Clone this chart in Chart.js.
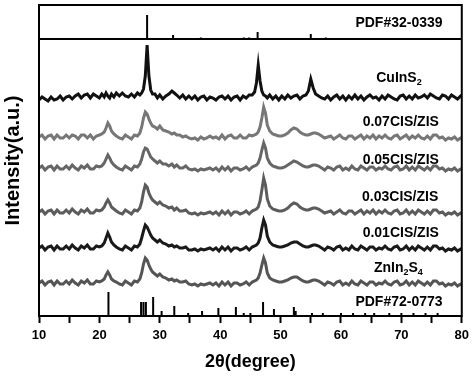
<!DOCTYPE html>
<html><head><meta charset="utf-8">
<script src="https://cdn.jsdelivr.net/npm/chart.js@4/dist/chart.umd.min.js"></script>
<style>html,body{margin:0;padding:0;background:#fff}canvas{display:block}</style>
</head><body>
<canvas id="c" width="474" height="376" style="width:474px;height:376px"></canvas>
<script>
// 2θ grid (degree)
const twoTheta = [
10,10.5,11,11.5,12,12.5,13,13.5,14,14.5,15,15.5,16,16.5,17,17.5,18,18.5,19,19.5,
20,20.4,20.8,21.1,21.4,21.7,22,22.4,22.8,
23.3,23.8,24.3,24.8,25.3,25.8,26.3,26.7,
27.0,27.3,27.6,27.9,28.2,28.5,28.8,
29.2,29.6,30,30.5,31,31.5,32,32.4,32.8,33.3,33.8,34.3,34.8,
35.3,35.8,36.3,36.8,37.3,37.8,
38.3,38.8,39.3,39.8,40.3,40.8,41.3,41.8,42.3,42.8,43.3,43.8,44.3,44.8,
45.3,45.7,46.0,46.3,46.6,46.9,47.2,47.5,47.8,
48.2,48.7,49.2,49.7,50.2,50.7,51.2,51.7,52.2,52.7,53.2,53.7,54.2,54.6,55.0,55.4,55.8,56.3,56.8,
57.3,57.8,58.3,58.8,59.3,59.8,60.3,60.8,61.3,61.8,62.3,62.8,63.3,63.8,64.3,64.8,65.3,65.8,66.3,66.8,
67.3,67.8,68.3,68.8,69.3,69.8,70.3,70.8,71.3,71.8,72.3,72.8,73.3,73.8,74.3,74.8,75.3,75.8,76.3,76.8,
77.3,77.8,78.3,78.8,79.3,79.8,80];

// intensities (a.u., stacked with offsets)
const cuInS2 = [
216,219,217,215,219,216,217,220,216,219,220,217,220,222,218,221,222,218,222,220,
218,222,219,223,220,218,222,219,223,
220,223,220,219,222,219,223,221,
223,227,240,271,240,226,222,
222,218,221,217,220,222,225,223,221,218,221,217,220,
217,220,216,219,220,216,
219,218,216,219,220,217,220,216,219,220,216,220,218,221,
221,224,233,251,235,225,221,220,218,
221,217,220,216,220,217,221,218,220,221,217,220,221,225,237,228,222,220,218,
217,220,216,219,221,217,220,216,220,217,221,217,220,216,219,221,218,219,216,220,
217,221,219,217,216,220,221,217,220,217,221,218,219,221,218,222,220,218,217,221,
220,217,221,219,217,220,219];

const cis007 = [
179,181,177,180,181,177,181,178,178,181,178,181,180,177,181,181,178,181,177,180,
181,182,184,188,193,190,185,182,180,
178,177,181,179,177,181,180,183,
189,198,204,202,197,193,190,
189,187,190,186,185,184,182,183,181,181,179,180,178,
177,178,176,179,177,178,
180,178,179,177,181,177,180,181,178,178,181,178,178,181,
180,181,182,184,189,198,209,203,191,
185,182,181,180,180,181,183,186,188,187,184,182,181,181,182,183,183,182,180,
178,179,180,177,179,181,178,177,180,180,177,179,181,177,180,178,181,177,180,178,
181,178,177,180,181,177,179,181,177,180,178,181,178,177,180,177,181,181,178,179,
176,178,177,179,176,178,177];

const cis005 = [
148,150,146,149,150,146,150,147,147,150,147,151,148,146,150,148,151,147,147,150,
149,150,153,157,161,158,154,151,149,
147,146,150,148,146,150,149,152,
157,164,168,167,163,159,157,
155,153,155,152,152,150,152,149,151,148,148,150,147,
146,147,145,147,146,147,
148,146,148,145,149,146,149,145,148,148,146,147,149,146,
149,150,151,153,158,166,173,168,158,
153,150,149,148,148,149,151,153,155,154,152,150,149,149,150,151,151,150,148,
146,149,148,146,149,150,146,148,146,150,147,146,150,148,146,149,149,146,148,147,
150,147,146,149,150,146,147,150,146,149,146,150,148,146,149,146,150,150,147,148,
145,147,146,148,145,147,146];

const cis003 = [
104,106,102,105,106,102,106,103,103,106,103,107,104,102,106,104,107,103,103,106,
105,106,109,113,116,113,109,107,105,
103,102,106,104,102,106,105,108,
114,124,131,129,123,119,116,
114,112,114,111,110,108,109,106,108,105,105,106,103,
102,103,101,103,102,103,
104,102,104,101,105,102,105,101,104,104,102,103,105,102,
105,106,107,109,115,126,138,131,117,
110,107,106,105,105,106,108,111,113,112,109,107,106,106,107,108,108,107,105,
103,104,105,102,104,106,103,102,105,105,102,104,106,102,105,103,106,102,105,103,
106,103,102,105,106,102,103,106,102,105,102,106,104,102,105,102,106,106,103,104,
101,103,102,104,101,103,102];

const cis001 = [
68,70,66,69,70,66,70,67,67,70,67,71,68,66,70,68,71,67,67,70,
69,70,73,78,83,79,74,71,69,
67,66,70,68,66,70,69,72,
78,85,91,89,85,81,78,
76,74,76,73,72,70,71,69,70,68,68,69,66,
66,67,65,67,66,67,
68,66,68,65,69,66,69,65,68,68,66,67,69,66,
69,70,71,73,78,88,96,91,80,
74,71,70,69,69,70,71,73,74,74,72,70,69,69,70,71,71,70,68,
66,69,68,66,69,70,66,68,66,70,67,66,70,68,66,69,69,66,68,67,
70,67,66,69,70,66,67,70,66,69,66,70,68,66,69,66,70,70,67,68,
65,67,66,68,65,67,66];

const znIn2S4 = [
33,35,31,34,35,31,35,32,32,35,32,36,33,31,35,33,36,32,32,35,
34,35,37,41,44,41,37,35,34,
32,31,35,33,31,35,34,37,
43,52,58,56,51,47,44,
42,40,42,39,38,36,37,35,36,34,34,35,32,
31,32,30,32,31,32,
33,31,33,30,34,31,34,30,33,33,31,32,34,31,
34,35,36,38,43,51,58,53,43,
38,36,35,34,34,35,36,38,39,39,37,35,34,34,35,36,36,35,33,
31,34,33,31,34,35,31,33,31,35,32,31,35,33,31,34,34,31,33,32,
35,32,31,34,35,31,32,35,31,34,31,35,33,31,34,31,35,35,32,33,
30,32,31,33,30,32,31];

// reference patterns (stick positions and relative intensities)
const pdf320339Pos = [27.9, 32.2, 36.8, 43.9, 44.8, 46.2, 55.0, 57.5];
const pdf320339Int = [24, 4, 1.5, 1.5, 1.5, 7, 5, 1.5];
const pdf720773Pos = [21.5, 26.9, 27.3, 27.7, 28.9, 30.3, 32.4, 34.7, 37.0, 39.7, 42.6, 43.9, 45.0, 47.1, 48.9, 52.2, 52.5, 55.2, 57.0, 60.0, 62.0, 64.0, 65.5, 68.0, 70.0, 72.0, 74.0, 76.0];
const pdf720773Int = [24, 14, 14, 14, 19, 5, 10, 3, 5, 8, 9, 3, 3, 14, 7, 9, 5, 3, 3, 3, 3, 3, 3, 3, 3, 3, 3, 3];

const xTickMin = 10, xTickMax = 80, xTickStep = 5;

// layout constants
const Y_MAX = 311;
const TOP_PANEL_BASE = 277;
const FONT = '"Liberation Sans", Arial, Helvetica, sans-serif';

const curves = [
  {data: cuInS2, color: '#111111'},
  {data: cis007, color: '#777777'},
  {data: cis005, color: '#666666'},
  {data: cis003, color: '#5c5c5c'},
  {data: cis001, color: '#1a1a1a'},
  {data: znIn2S4, color: '#555555'}
];

function zip(xs, ys){ return xs.map((x,i)=>({x, y: ys[i]})); }
function sticks(pos, ints, base){
  const pts = [];
  pos.forEach((p,i)=>{ pts.push({x:p,y:base},{x:p,y:base+ints[i]},{x:p,y:null}); });
  return pts;
}

const datasets = curves.map(c=>({
  data: zip(twoTheta, c.data), borderColor: c.color, borderWidth: 3,
  pointRadius: 0, tension: 0, fill: false, spanGaps: false
}));
datasets.push({data: sticks(pdf320339Pos, pdf320339Int, TOP_PANEL_BASE), borderColor:'#000', borderWidth:2, pointRadius:0, spanGaps:false});
datasets.push({data: sticks(pdf720773Pos, pdf720773Int, 0), borderColor:'#000', borderWidth:2, pointRadius:0, spanGaps:false});

const labels = [
  {parts:[['PDF#32-0339',0]], x:69.6, y:293},
  {parts:[['CuInS',0],['2',1]], x:69.6, y:238},
  {parts:[['0.07CIS/ZIS',0]], x:69.9, y:194},
  {parts:[['0.05CIS/ZIS',0]], x:69.9, y:156},
  {parts:[['0.03CIS/ZIS',0]], x:69.8, y:119},
  {parts:[['0.01CIS/ZIS',0]], x:69.9, y:83},
  {parts:[['ZnIn',0],['2',1],['S',0],['4',1]], x:69.5, y:48},
  {parts:[['PDF#72-0773',0]], x:69.6, y:14}
];

const framePlugin = {
  id: 'frame',
  afterDatasetsDraw(chart){
    const {ctx, chartArea:a, scales:{x, y}} = chart;
    ctx.save();
    ctx.strokeStyle = '#000'; ctx.lineWidth = 2;
    ctx.strokeRect(a.left, a.top, a.right - a.left, a.bottom - a.top);
    const ys = y.getPixelForValue(TOP_PANEL_BASE);
    ctx.beginPath(); ctx.moveTo(a.left, ys); ctx.lineTo(a.right, ys); ctx.stroke();
    ctx.fillStyle = '#000';
    ctx.textBaseline = 'middle';
    ctx.textAlign = 'left';
    const mainF = 'bold 14px ' + FONT, subF = 'bold 9px ' + FONT;
    labels.forEach(l=>{
      let w = 0;
      l.parts.forEach(([t,s])=>{ ctx.font = s ? subF : mainF; w += ctx.measureText(t).width; });
      let cx = x.getPixelForValue(l.x) - w/2;
      const cy = y.getPixelForValue(l.y);
      l.parts.forEach(([t,s])=>{
        ctx.font = s ? subF : mainF;
        ctx.fillText(t, cx, s ? cy + 5 : cy);
        cx += ctx.measureText(t).width;
      });
    });
    ctx.restore();
  }
};

new Chart(document.getElementById('c'), {
  type: 'line',
  data: {datasets},
  options: {
    responsive: false, animation: false, devicePixelRatio: 1,
    layout: {padding: {left:0, right:11, top:5, bottom:0}},
    plugins: {legend:{display:false}, tooltip:{enabled:false}},
    scales: {
      x: {
        type: 'linear', min: xTickMin, max: xTickMax,
        ticks: {stepSize: xTickStep, autoSkip:false, maxRotation:0, padding:5, color:'#000',
          font:{family: FONT, size:13, weight:'bold'},
          callback: v => (v % 10 === 0 ? String(v) : '')},
        grid: {display:true, drawOnChartArea:false, drawTicks:true, tickLength:7, tickColor:'#000', tickWidth:2},
        border: {display:false},
        title: {display:true, text:'2θ(degree)', color:'#000', font:{family: FONT, size:18, weight:'bold'}, padding:{top:0,bottom:3}},
        afterFit(s){ s.height = 60; }
      },
      y: {
        type: 'linear', min: 0, max: Y_MAX,
        ticks: {display:false},
        grid: {display:false},
        border: {display:false},
        title: {display:true, text:'Intensity(a.u.)', color:'#000', font:{family: FONT, size:20, weight:'bold'}, padding:{top:1,bottom:0}},
        afterFit(s){ s.width = 39; }
      }
    }
  },
  plugins: [framePlugin]
});
</script>
</body></html>
